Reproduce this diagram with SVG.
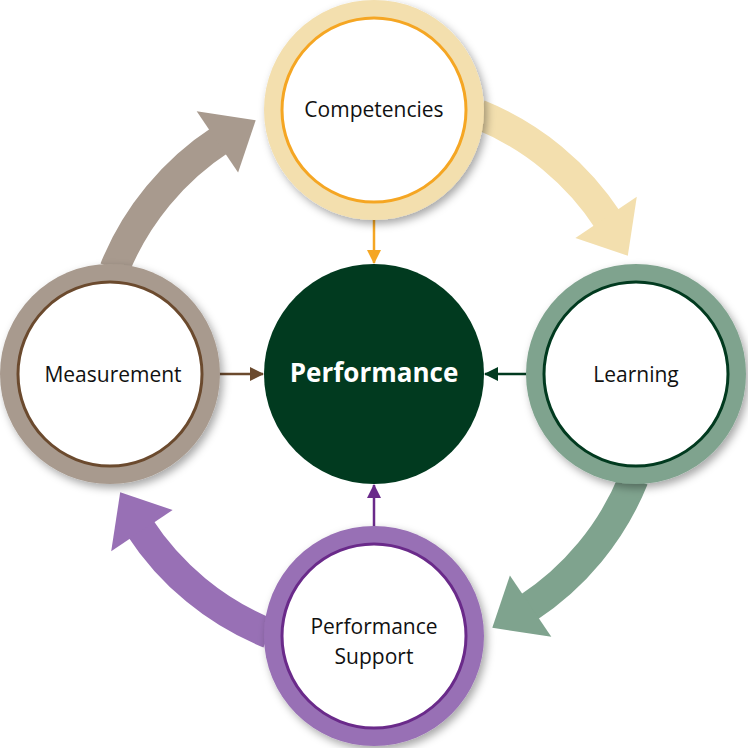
<svg xmlns="http://www.w3.org/2000/svg" width="748" height="748" viewBox="0 0 748 748">
<defs>
<style>
.lbl{font-family:"Open Sans","Noto Sans",sans-serif;font-size:21px;fill:#111;text-anchor:middle}
.inner{fill:#fff;stroke-width:3}
.band{fill:none;stroke-width:30}
</style>
<filter id="sh" x="-20%" y="-20%" width="150%" height="150%"><feDropShadow dx="3" dy="4" stdDeviation="4" flood-opacity="0.35"/></filter>
<marker id="mo" markerWidth="8" markerHeight="8" refX="7" refY="4" orient="auto" markerUnits="userSpaceOnUse"><path d="M0,0L8,4L0,8z" fill="#f5a623"/></marker>
<marker id="mb" markerWidth="14" markerHeight="14" refX="13" refY="7" orient="auto" markerUnits="userSpaceOnUse"><path d="M0,0L14,7L0,14z" fill="#6b4a2e"/></marker>
<marker id="mg" markerWidth="14" markerHeight="14" refX="13" refY="7" orient="auto" markerUnits="userSpaceOnUse"><path d="M0,0L14,7L0,14z" fill="#013a1f"/></marker>
<marker id="mp" markerWidth="14" markerHeight="14" refX="13" refY="7" orient="auto" markerUnits="userSpaceOnUse"><path d="M0,0L14,7L0,14z" fill="#6a2a8a"/></marker>
<marker id="mo2" markerWidth="14" markerHeight="14" refX="13" refY="7" orient="auto" markerUnits="userSpaceOnUse"><path d="M0,0L14,7L0,14z" fill="#f5a623"/></marker>
<g id="arc"><path class="band" d="M478.9,114.4 A280,280 0 0 1 608.8,221.5"/><path d="M627.8,255.7 L575.4,238.1 L636.8,196.7 Z" stroke="none"/></g>
</defs>
<g id="connectors">
<use href="#arc" fill="#f3dfae" stroke="#f3dfae"/>
<use href="#arc" transform="rotate(90 374 374)" fill="#7fa38e" stroke="#7fa38e"/>
<use href="#arc" transform="rotate(180 374 374)" fill="#9870b5" stroke="#9870b5"/>
<use href="#arc" transform="rotate(270 374 374)" fill="#a89a8e" stroke="#a89a8e"/>
<line x1="374" y1="204" x2="374" y2="263" stroke="#f5a623" stroke-width="2.5" marker-end="url(#mo2)"/>
<line x1="206" y1="374" x2="263" y2="374" stroke="#6b4a2e" stroke-width="2.5" marker-end="url(#mb)"/>
<line x1="542" y1="374" x2="485" y2="374" stroke="#013a1f" stroke-width="2.5" marker-end="url(#mg)"/>
<line x1="374" y1="542" x2="374" y2="485" stroke="#6a2a8a" stroke-width="2.5" marker-end="url(#mp)"/>
</g>
<g id="performance"><circle cx="374" cy="374" r="110" fill="#013a1f"/><text x="374" y="382" class="lbl" style="fill:#fff;font-weight:bold;font-size:26px">Performance</text></g>
<g id="competencies"><circle cx="374" cy="110" r="110" fill="#f3dfae" filter="url(#sh)"/><circle cx="374" cy="110" r="92" class="inner" stroke="#f5a623"/><text x="374" y="117" class="lbl">Competencies</text></g>
<g id="learning"><circle cx="636" cy="374" r="110" fill="#7fa38e" filter="url(#sh)"/><circle cx="636" cy="374" r="92" class="inner" stroke="#013a1f"/><text x="636" y="382" class="lbl">Learning</text></g>
<g id="support"><circle cx="374" cy="636" r="110" fill="#9870b5" filter="url(#sh)"/><circle cx="374" cy="636" r="92" class="inner" stroke="#6a2a8a"/><text x="374" y="634" class="lbl">Performance</text><text x="374" y="664" class="lbl">Support</text></g>
<g id="measurement"><circle cx="110" cy="374" r="110" fill="#a89a8e" filter="url(#sh)"/><circle cx="110" cy="374" r="92" class="inner" stroke="#6b4a2e"/><text x="113" y="382" class="lbl">Measurement</text></g>
</svg>
